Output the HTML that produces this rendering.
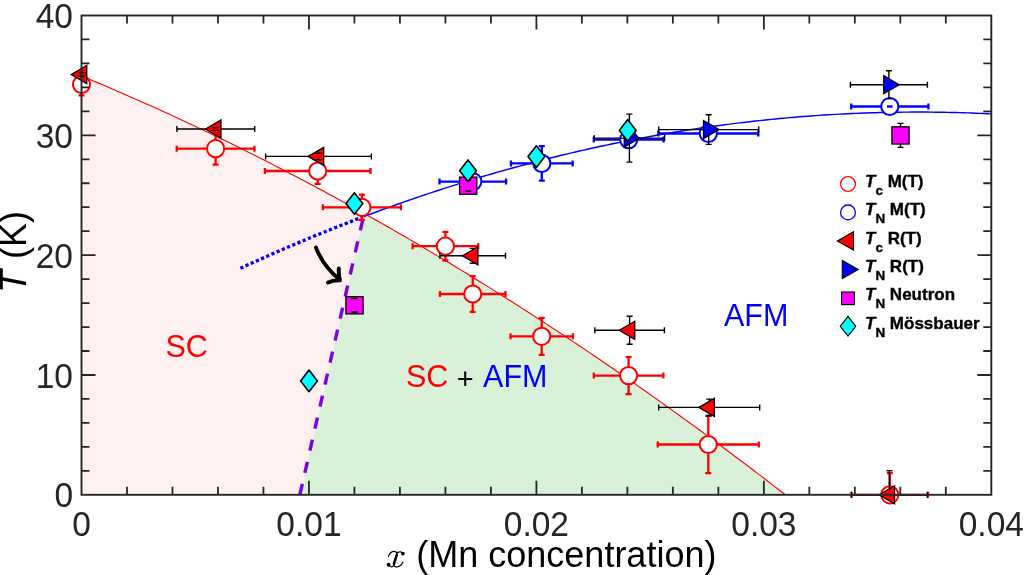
<!DOCTYPE html>
<html><head><meta charset="utf-8"><title>Phase diagram</title>
<style>
html,body{margin:0;padding:0;background:#fff;}
body{width:1025px;height:575px;overflow:hidden;}
svg{display:block;}
text{font-family:"Liberation Sans",sans-serif;}
svg{will-change:transform;}
.tk{font-size:33.5px;fill:#262626;}
.lb{font-size:36px;fill:#000;}
.an{font-size:30.5px;}
.lg{font-size:17px;font-weight:bold;fill:#000;stroke:#000;stroke-width:0.35px;}
</style></head><body>
<svg width="1025" height="575" viewBox="0 0 1025 575">
<rect width="1025" height="575" fill="#fff"/>
<polygon points="300.5,494.8 240.0,148.0 246.0,151.0 252.0,154.0 258.0,157.0 264.0,160.0 270.0,163.1 276.0,166.2 282.0,169.3 288.0,172.4 294.0,175.5 300.0,178.6 306.0,181.8 312.0,185.0 318.0,188.2 324.0,191.4 330.0,194.7 336.0,197.9 342.0,201.2 348.0,204.5 354.0,207.8 360.0,211.2 366.0,214.5 372.0,217.9 378.0,221.3 384.0,224.7 390.0,228.1 396.0,231.6 402.0,235.0 408.0,238.5 414.0,242.0 420.0,245.5 426.0,249.1 432.0,252.6 438.0,256.2 444.0,259.8 450.0,263.4 456.0,267.0 462.0,270.7 468.0,274.3 474.0,278.0 480.0,281.7 486.0,285.5 492.0,289.2 498.0,293.0 504.0,296.7 510.0,300.5 516.0,304.4 522.0,308.2 528.0,312.0 534.0,315.9 540.0,319.8 546.0,323.7 552.0,327.6 558.0,331.6 564.0,335.6 570.0,339.5 576.0,343.5 582.0,347.6 588.0,351.6 594.0,355.7 600.0,359.7 606.0,363.8 612.0,367.9 618.0,372.1 624.0,376.2 630.0,380.4 636.0,384.6 642.0,388.8 648.0,393.0 654.0,397.2 660.0,401.5 666.0,405.8 672.0,410.1 678.0,414.4 684.0,418.7 690.0,423.1 696.0,427.5 702.0,431.9 708.0,436.3 714.0,440.7 720.0,445.1 726.0,449.6 732.0,454.1 738.0,458.6 744.0,463.1 750.0,467.7 756.0,472.2 762.0,476.8 768.0,481.4 774.0,486.0 780.0,490.6 785.3,494.8" fill="#d9f0d9"/>
<polygon points="81.5,494.8 81.5,75.9 120.0,92.2 160.0,110.0 200.0,128.6 240.0,148.0 364.5,213.7 300.5,494.8" fill="#fff1f1"/>
<path d="M81.50,75.93 L85.50,77.59 L89.50,79.26 L93.50,80.93 L97.50,82.62 L101.50,84.31 L105.50,86.01 L109.50,87.72 L113.50,89.44 L117.50,91.16 L121.50,92.90 L125.50,94.64 L129.50,96.39 L133.50,98.15 L137.50,99.91 L141.50,101.69 L145.50,103.47 L149.50,105.26 L153.50,107.06 L157.50,108.87 L161.50,110.68 L165.50,112.51 L169.50,114.34 L173.50,116.18 L177.50,118.03 L181.50,119.89 L185.50,121.75 L189.50,123.63 L193.50,125.51 L197.50,127.40 L201.50,129.30 L205.50,131.20 L209.50,133.12 L213.50,135.04 L217.50,136.97 L221.50,138.91 L225.50,140.86 L229.50,142.82 L233.50,144.78 L237.50,146.75 L241.50,148.74 L245.50,150.72 L249.50,152.72 L253.50,154.73 L257.50,156.74 L261.50,158.76 L265.50,160.79 L269.50,162.83 L273.50,164.88 L277.50,166.93 L281.50,169.00 L285.50,171.07 L289.50,173.15 L293.50,175.24 L297.50,177.33 L301.50,179.44 L305.50,181.55 L309.50,183.67 L313.50,185.80 L317.50,187.94 L321.50,190.08 L325.50,192.24 L329.50,194.40 L333.50,196.57 L337.50,198.75 L341.50,200.93 L345.50,203.13 L349.50,205.33 L353.50,207.54 L357.50,209.76 L361.50,211.99 L365.50,214.23 L369.50,216.47 L373.50,218.73 L377.50,220.99 L381.50,223.26 L385.50,225.53 L389.50,227.82 L393.50,230.11 L397.50,232.41 L401.50,234.72 L405.50,237.04 L409.50,239.37 L413.50,241.71 L417.50,244.05 L421.50,246.40 L425.50,248.76 L429.50,251.13 L433.50,253.50 L437.50,255.89 L441.50,258.28 L445.50,260.68 L449.50,263.09 L453.50,265.51 L457.50,267.94 L461.50,270.37 L465.50,272.81 L469.50,275.26 L473.50,277.72 L477.50,280.19 L481.50,282.66 L485.50,285.15 L489.50,287.64 L493.50,290.14 L497.50,292.65 L501.50,295.16 L505.50,297.69 L509.50,300.22 L513.50,302.76 L517.50,305.31 L521.50,307.87 L525.50,310.43 L529.50,313.01 L533.50,315.59 L537.50,318.18 L541.50,320.78 L545.50,323.39 L549.50,326.00 L553.50,328.63 L557.50,331.26 L561.50,333.90 L565.50,336.55 L569.50,339.20 L573.50,341.87 L577.50,344.54 L581.50,347.22 L585.50,349.91 L589.50,352.61 L593.50,355.31 L597.50,358.03 L601.50,360.75 L605.50,363.48 L609.50,366.22 L613.50,368.97 L617.50,371.72 L621.50,374.49 L625.50,377.26 L629.50,380.04 L633.50,382.83 L637.50,385.62 L641.50,388.43 L645.50,391.24 L649.50,394.06 L653.50,396.89 L657.50,399.73 L661.50,402.58 L665.50,405.43 L669.50,408.29 L673.50,411.16 L677.50,414.04 L681.50,416.93 L685.50,419.83 L689.50,422.73 L693.50,425.64 L697.50,428.56 L701.50,431.49 L705.50,434.43 L709.50,437.37 L713.50,440.32 L717.50,443.29 L721.50,446.26 L725.50,449.23 L729.50,452.22 L733.50,455.21 L737.50,458.22 L741.50,461.23 L745.50,464.25 L749.50,467.27 L753.50,470.31 L757.50,473.35 L761.50,476.40 L765.50,479.46 L769.50,482.53 L773.50,485.61 L777.50,488.70 L781.50,491.79 L785.30,494.73" fill="none" stroke="#ff0000" stroke-width="1.1"/>
<path d="M363.50,216.70 L367.50,215.19 L371.50,213.70 L375.50,212.22 L379.50,210.75 L383.50,209.28 L387.50,207.83 L391.50,206.39 L395.50,204.97 L399.50,203.55 L403.50,202.14 L407.50,200.75 L411.50,199.36 L415.50,197.99 L419.50,196.63 L423.50,195.27 L427.50,193.93 L431.50,192.60 L435.50,191.28 L439.50,189.97 L443.50,188.68 L447.50,187.39 L451.50,186.11 L455.50,184.85 L459.50,183.60 L463.50,182.35 L467.50,181.12 L471.50,179.90 L475.50,178.69 L479.50,177.49 L483.50,176.30 L487.50,175.12 L491.50,173.96 L495.50,172.80 L499.50,171.65 L503.50,170.52 L507.50,169.40 L511.50,168.28 L515.50,167.18 L519.50,166.09 L523.50,165.01 L527.50,163.94 L531.50,162.89 L535.50,161.84 L539.50,160.80 L543.50,159.78 L547.50,158.76 L551.50,157.76 L555.50,156.77 L559.50,155.79 L563.50,154.82 L567.50,153.86 L571.50,152.91 L575.50,151.97 L579.50,151.04 L583.50,150.13 L587.50,149.22 L591.50,148.33 L595.50,147.44 L599.50,146.57 L603.50,145.71 L607.50,144.86 L611.50,144.02 L615.50,143.19 L619.50,142.37 L623.50,141.56 L627.50,140.77 L631.50,139.98 L635.50,139.21 L639.50,138.44 L643.50,137.69 L647.50,136.95 L651.50,136.22 L655.50,135.50 L659.50,134.79 L663.50,134.09 L667.50,133.40 L671.50,132.73 L675.50,132.06 L679.50,131.41 L683.50,130.76 L687.50,130.13 L691.50,129.51 L695.50,128.90 L699.50,128.30 L703.50,127.71 L707.50,127.13 L711.50,126.56 L715.50,126.00 L719.50,125.46 L723.50,124.92 L727.50,124.40 L731.50,123.89 L735.50,123.38 L739.50,122.89 L743.50,122.41 L747.50,121.94 L751.50,121.48 L755.50,121.04 L759.50,120.60 L763.50,120.17 L767.50,119.76 L771.50,119.35 L775.50,118.96 L779.50,118.58 L783.50,118.21 L787.50,117.85 L791.50,117.50 L795.50,117.16 L799.50,116.83 L803.50,116.51 L807.50,116.21 L811.50,115.91 L815.50,115.63 L819.50,115.36 L823.50,115.09 L827.50,114.84 L831.50,114.60 L835.50,114.37 L839.50,114.15 L843.50,113.94 L847.50,113.75 L851.50,113.56 L855.50,113.39 L859.50,113.22 L863.50,113.07 L867.50,112.93 L871.50,112.79 L875.50,112.67 L879.50,112.56 L883.50,112.46 L887.50,112.38 L891.50,112.30 L895.50,112.23 L899.50,112.18 L903.50,112.13 L907.50,112.10 L911.50,112.08 L915.50,112.06 L919.50,112.06 L923.50,112.07 L927.50,112.09 L931.50,112.13 L935.50,112.17 L939.50,112.22 L943.50,112.29 L947.50,112.36 L951.50,112.45 L955.50,112.54 L959.50,112.65 L963.50,112.77 L967.50,112.90 L971.50,113.04 L975.50,113.19 L979.50,113.36 L983.50,113.53 L987.50,113.71 L991.30,113.90" fill="none" stroke="#0000ff" stroke-width="1.45"/>
<path d="M240.40,268.33 L246.40,265.57 L252.40,262.84 L258.40,260.14 L264.40,257.45 L270.40,254.80 L276.40,252.16 L282.40,249.55 L288.40,246.97 L294.40,244.41 L300.40,241.88 L306.40,239.36 L312.40,236.88 L318.40,234.42 L324.40,231.98 L330.40,229.57 L336.40,227.18 L342.40,224.82 L348.40,222.48 L354.40,220.16 L360.40,217.87 L362.00,217.27" fill="none" stroke="#0000ff" stroke-width="3.3" stroke-dasharray="3.25 2.42"/>
<path d="M299.8,494.8 L363.5,216.5" fill="none" stroke="#7f00e6" stroke-width="3.4" stroke-dasharray="11.3 11.3"/>
<path d="M316,247.6 Q323,266 339.5,279.5 M338.8,268.5 Q338.5,275 340,280.3 Q333,280 328,282.6" fill="none" stroke="#000" stroke-width="3.9" stroke-linecap="round" stroke-linejoin="round"/>
<path d="M81.50,73.60 V95.40" fill="none" stroke="#ff0000" stroke-width="2.3"/>
<circle cx="81.50" cy="84.50" r="8.6" fill="#fff" stroke="#ff0000" stroke-width="2.0"/>
<path d="M78.50,73.60 H84.50 M78.50,95.40 H84.50" fill="none" stroke="#ff0000" stroke-width="2.3"/>
<path d="M176.70,148.70 H254.50 M215.60,132.70 V164.70" fill="none" stroke="#ff0000" stroke-width="2.3"/>
<circle cx="215.60" cy="148.70" r="8.6" fill="#fff" stroke="#ff0000" stroke-width="2.0"/>
<path d="M176.70,145.70 V151.70 M254.50,145.70 V151.70 M212.60,132.70 H218.60 M212.60,164.70 H218.60" fill="none" stroke="#ff0000" stroke-width="2.3"/>
<path d="M264.90,171.00 H370.50 M317.70,158.20 V183.80" fill="none" stroke="#ff0000" stroke-width="2.3"/>
<circle cx="317.70" cy="171.00" r="8.6" fill="#fff" stroke="#ff0000" stroke-width="2.0"/>
<path d="M264.90,168.00 V174.00 M370.50,168.00 V174.00 M314.70,158.20 H320.70 M314.70,183.80 H320.70" fill="none" stroke="#ff0000" stroke-width="2.3"/>
<path d="M322.90,207.30 H400.90 M361.90,194.70 V219.90" fill="none" stroke="#ff0000" stroke-width="2.3"/>
<circle cx="361.90" cy="207.30" r="8.6" fill="#fff" stroke="#ff0000" stroke-width="2.0"/>
<path d="M322.90,204.30 V210.30 M400.90,204.30 V210.30 M358.90,194.70 H364.90 M358.90,219.90 H364.90" fill="none" stroke="#ff0000" stroke-width="2.3"/>
<path d="M412.60,246.20 H478.20 M445.40,231.90 V260.50" fill="none" stroke="#ff0000" stroke-width="2.3"/>
<circle cx="445.40" cy="246.20" r="8.6" fill="#fff" stroke="#ff0000" stroke-width="2.0"/>
<path d="M412.60,243.20 V249.20 M478.20,243.20 V249.20 M442.40,231.90 H448.40 M442.40,260.50 H448.40" fill="none" stroke="#ff0000" stroke-width="2.3"/>
<path d="M439.90,294.00 H505.50 M472.70,276.20 V311.80" fill="none" stroke="#ff0000" stroke-width="2.3"/>
<circle cx="472.70" cy="294.00" r="8.6" fill="#fff" stroke="#ff0000" stroke-width="2.0"/>
<path d="M439.90,291.00 V297.00 M505.50,291.00 V297.00 M469.70,276.20 H475.70 M469.70,311.80 H475.70" fill="none" stroke="#ff0000" stroke-width="2.3"/>
<path d="M510.50,336.30 H572.90 M541.70,317.80 V354.80" fill="none" stroke="#ff0000" stroke-width="2.3"/>
<circle cx="541.70" cy="336.30" r="8.6" fill="#fff" stroke="#ff0000" stroke-width="2.0"/>
<path d="M510.50,333.30 V339.30 M572.90,333.30 V339.30 M538.70,317.80 H544.70 M538.70,354.80 H544.70" fill="none" stroke="#ff0000" stroke-width="2.3"/>
<path d="M593.80,375.60 H663.40 M628.60,357.10 V394.10" fill="none" stroke="#ff0000" stroke-width="2.3"/>
<circle cx="628.60" cy="375.60" r="8.6" fill="#fff" stroke="#ff0000" stroke-width="2.0"/>
<path d="M593.80,372.60 V378.60 M663.40,372.60 V378.60 M625.60,357.10 H631.60 M625.60,394.10 H631.60" fill="none" stroke="#ff0000" stroke-width="2.3"/>
<path d="M657.80,444.50 H758.80 M708.30,415.80 V473.20" fill="none" stroke="#ff0000" stroke-width="2.3"/>
<circle cx="708.30" cy="444.50" r="8.6" fill="#fff" stroke="#ff0000" stroke-width="2.0"/>
<path d="M657.80,441.50 V447.50 M758.80,441.50 V447.50 M705.30,415.80 H711.30 M705.30,473.20 H711.30" fill="none" stroke="#ff0000" stroke-width="2.3"/>
<path d="M851.60,494.80 H928.00 M889.80,473.00 V494.80" fill="none" stroke="#ff0000" stroke-width="2.3"/>
<circle cx="889.80" cy="494.80" r="8.6" fill="#fff" stroke="#ff0000" stroke-width="2.0"/>
<path d="M851.60,491.80 V497.80 M928.00,491.80 V497.80 M886.80,473.00 H892.80" fill="none" stroke="#ff0000" stroke-width="2.3"/>
<path d="M439.50,181.60 H506.10 M472.80,173.60 V189.60" fill="none" stroke="#0000ff" stroke-width="2.3"/>
<circle cx="472.80" cy="181.60" r="8.6" fill="#fff" stroke="#0000ff" stroke-width="2.0"/>
<path d="M439.50,178.60 V184.60 M506.10,178.60 V184.60 M469.80,173.60 H475.80 M469.80,189.60 H475.80" fill="none" stroke="#0000ff" stroke-width="2.3"/>
<path d="M510.90,163.40 H572.70 M541.80,146.10 V180.70" fill="none" stroke="#0000ff" stroke-width="2.3"/>
<circle cx="541.80" cy="163.40" r="8.6" fill="#fff" stroke="#0000ff" stroke-width="2.0"/>
<path d="M510.90,160.40 V166.40 M572.70,160.40 V166.40 M538.80,146.10 H544.80 M538.80,180.70 H544.80" fill="none" stroke="#0000ff" stroke-width="2.3"/>
<path d="M593.80,139.60 H663.60" fill="none" stroke="#0000ff" stroke-width="2.3"/>
<circle cx="628.70" cy="139.60" r="8.6" fill="#fff" stroke="#0000ff" stroke-width="2.0"/>
<path d="M593.80,136.60 V142.60 M663.60,136.60 V142.60" fill="none" stroke="#0000ff" stroke-width="2.3"/>
<path d="M658.30,133.50 H758.30" fill="none" stroke="#0000ff" stroke-width="2.3"/>
<circle cx="708.30" cy="133.50" r="8.6" fill="#fff" stroke="#0000ff" stroke-width="2.0"/>
<path d="M658.30,130.50 V136.50 M758.30,130.50 V136.50" fill="none" stroke="#0000ff" stroke-width="2.3"/>
<path d="M851.20,106.50 H928.40" fill="none" stroke="#0000ff" stroke-width="2.3"/>
<circle cx="889.80" cy="106.50" r="8.6" fill="#fff" stroke="#0000ff" stroke-width="2.0"/>
<path d="M851.20,103.50 V109.50 M928.40,103.50 V109.50" fill="none" stroke="#0000ff" stroke-width="2.3"/>
<path d="M887,106.5 H892.6" stroke="#0000ff" stroke-width="2.4"/>
<path d="M81.60,72.70 V76.30" fill="none" stroke="#000" stroke-width="1.4"/>
<polygon points="71.27,74.50 86.77,65.50 86.77,83.50" fill="#ff0000" stroke="#000" stroke-width="1.3" stroke-linejoin="miter"/>
<path d="M78.60,72.70 H84.60 M78.60,76.30 H84.60" fill="none" stroke="#000" stroke-width="1.4"/>
<path d="M176.90,129.00 H254.70 M215.80,127.60 V130.40" fill="none" stroke="#000" stroke-width="1.4"/>
<polygon points="205.47,129.00 220.97,120.00 220.97,138.00" fill="#ff0000" stroke="#000" stroke-width="1.3" stroke-linejoin="miter"/>
<path d="M176.90,126.00 V132.00 M254.70,126.00 V132.00 M212.80,127.60 H218.80 M212.80,130.40 H218.80" fill="none" stroke="#000" stroke-width="1.4"/>
<path d="M265.60,156.40 H371.40 M318.50,153.20 V159.60" fill="none" stroke="#000" stroke-width="1.4"/>
<polygon points="308.17,156.40 323.67,147.40 323.67,165.40" fill="#ff0000" stroke="#000" stroke-width="1.3" stroke-linejoin="miter"/>
<path d="M265.60,153.40 V159.40 M371.40,153.40 V159.40 M315.50,153.20 H321.50 M315.50,159.60 H321.50" fill="none" stroke="#000" stroke-width="1.4"/>
<path d="M439.90,255.80 H505.50 M472.70,248.40 V263.20 M439.90,252.80 V258.80 M505.50,252.80 V258.80 M469.70,248.40 H475.70 M469.70,263.20 H475.70" fill="none" stroke="#000" stroke-width="1.4"/>
<polygon points="462.37,255.80 477.87,246.80 477.87,264.80" fill="#ff0000" stroke="#000" stroke-width="1.3" stroke-linejoin="miter"/>
<path d="M594.80,330.30 H664.40 M629.60,316.30 V344.30" fill="none" stroke="#000" stroke-width="1.4"/>
<polygon points="619.27,330.30 634.77,321.30 634.77,339.30" fill="#ff0000" stroke="#000" stroke-width="1.3" stroke-linejoin="miter"/>
<path d="M594.80,327.30 V333.30 M664.40,327.30 V333.30 M626.60,316.30 H632.60 M626.60,344.30 H632.60" fill="none" stroke="#000" stroke-width="1.4"/>
<path d="M658.70,407.40 H759.70 M709.20,399.10 V415.70 M658.70,404.40 V410.40 M759.70,404.40 V410.40 M706.20,399.10 H712.20 M706.20,415.70 H712.20" fill="none" stroke="#000" stroke-width="1.4"/>
<polygon points="698.87,407.40 714.37,398.40 714.37,416.40" fill="#ff0000" stroke="#000" stroke-width="1.3" stroke-linejoin="miter"/>
<path d="M851.40,494.80 H927.40 M889.40,470.60 V494.80" fill="none" stroke="#000" stroke-width="1.4"/>
<polygon points="879.07,494.80 894.57,485.80 894.57,503.80" fill="#ff0000" stroke="#000" stroke-width="1.3" stroke-linejoin="miter"/>
<path d="M851.40,491.80 V497.80 M927.40,491.80 V497.80 M886.40,470.60 H892.40" fill="none" stroke="#000" stroke-width="1.4"/>
<path d="M594.20,138.10 H664.60 M629.40,114.10 V162.10" fill="none" stroke="#000" stroke-width="1.4"/>
<polygon points="639.73,138.10 624.23,129.10 624.23,147.10" fill="#0000ff" stroke="#000" stroke-width="1.3" stroke-linejoin="miter"/>
<path d="M594.20,135.10 V141.10 M664.60,135.10 V141.10 M626.40,114.10 H632.40 M626.40,162.10 H632.40" fill="none" stroke="#000" stroke-width="1.4"/>
<path d="M658.70,129.60 H758.70 M708.70,114.80 V144.40" fill="none" stroke="#000" stroke-width="1.4"/>
<polygon points="719.03,129.60 703.53,120.60 703.53,138.60" fill="#0000ff" stroke="#000" stroke-width="1.3" stroke-linejoin="miter"/>
<path d="M658.70,126.60 V132.60 M758.70,126.60 V132.60 M705.70,114.80 H711.70 M705.70,144.40 H711.70" fill="none" stroke="#000" stroke-width="1.4"/>
<path d="M850.40,84.70 H927.40 M888.90,70.80 V98.60" fill="none" stroke="#000" stroke-width="1.4"/>
<polygon points="899.23,84.70 883.73,75.70 883.73,93.70" fill="#0000ff" stroke="#000" stroke-width="1.3" stroke-linejoin="miter"/>
<path d="M850.40,81.70 V87.70 M927.40,81.70 V87.70 M885.90,70.80 H891.90 M885.90,98.60 H891.90" fill="none" stroke="#000" stroke-width="1.4"/>
<path d="M354.50,298.55 V312.05" fill="none" stroke="#000" stroke-width="1.4"/>
<rect x="345.90" y="296.70" width="17.2" height="17.2" fill="#ff00ff" stroke="#000" stroke-width="1.3"/>
<path d="M351.50,298.55 H357.50 M351.50,312.05 H357.50" fill="none" stroke="#000" stroke-width="1.4"/>
<path d="M468.20,180.20 V191.20" fill="none" stroke="#000" stroke-width="1.4"/>
<rect x="459.60" y="177.10" width="17.2" height="17.2" fill="#ff00ff" stroke="#000" stroke-width="1.3"/>
<path d="M465.20,180.20 H471.20 M465.20,191.20 H471.20" fill="none" stroke="#000" stroke-width="1.4"/>
<path d="M900.50,123.40 V147.40" fill="none" stroke="#000" stroke-width="1.4"/>
<rect x="891.90" y="126.80" width="17.2" height="17.2" fill="#ff00ff" stroke="#000" stroke-width="1.3"/>
<path d="M897.50,123.40 H903.50 M897.50,147.40 H903.50" fill="none" stroke="#000" stroke-width="1.4"/>
<polygon points="309.00,370.10 317.40,380.90 309.00,391.70 300.60,380.90" fill="#00ffff" stroke="#000" stroke-width="1.6" stroke-linejoin="round"/>
<polygon points="354.40,192.70 362.80,203.50 354.40,214.30 346.00,203.50" fill="#00ffff" stroke="#000" stroke-width="1.6" stroke-linejoin="round"/>
<polygon points="468.00,159.90 476.40,170.70 468.00,181.50 459.60,170.70" fill="#00ffff" stroke="#000" stroke-width="1.6" stroke-linejoin="round"/>
<polygon points="536.40,145.80 544.80,156.60 536.40,167.40 528.00,156.60" fill="#00ffff" stroke="#000" stroke-width="1.6" stroke-linejoin="round"/>
<polygon points="627.70,119.60 636.10,130.40 627.70,141.20 619.30,130.40" fill="#00ffff" stroke="#000" stroke-width="1.6" stroke-linejoin="round"/>
<path d="M126.99,494.80 V486.80 M126.99,15.50 V23.50 M172.48,494.80 V486.80 M172.48,15.50 V23.50 M217.97,494.80 V486.80 M217.97,15.50 V23.50 M263.46,494.80 V486.80 M263.46,15.50 V23.50 M308.95,494.80 V480.80 M308.95,15.50 V29.50 M354.44,494.80 V486.80 M354.44,15.50 V23.50 M399.93,494.80 V486.80 M399.93,15.50 V23.50 M445.42,494.80 V486.80 M445.42,15.50 V23.50 M490.91,494.80 V486.80 M490.91,15.50 V23.50 M536.40,494.80 V480.80 M536.40,15.50 V29.50 M581.89,494.80 V486.80 M581.89,15.50 V23.50 M627.38,494.80 V486.80 M627.38,15.50 V23.50 M672.87,494.80 V486.80 M672.87,15.50 V23.50 M718.36,494.80 V486.80 M718.36,15.50 V23.50 M763.85,494.80 V480.80 M763.85,15.50 V29.50 M809.34,494.80 V486.80 M809.34,15.50 V23.50 M854.83,494.80 V486.80 M854.83,15.50 V23.50 M900.32,494.80 V486.80 M900.32,15.50 V23.50 M945.81,494.80 V486.80 M945.81,15.50 V23.50 M81.50,470.84 H89.50 M991.30,470.84 H983.30 M81.50,446.87 H89.50 M991.30,446.87 H983.30 M81.50,422.91 H89.50 M991.30,422.91 H983.30 M81.50,398.94 H89.50 M991.30,398.94 H983.30 M81.50,374.98 H95.50 M991.30,374.98 H977.30 M81.50,351.01 H89.50 M991.30,351.01 H983.30 M81.50,327.05 H89.50 M991.30,327.05 H983.30 M81.50,303.08 H89.50 M991.30,303.08 H983.30 M81.50,279.12 H89.50 M991.30,279.12 H983.30 M81.50,255.15 H95.50 M991.30,255.15 H977.30 M81.50,231.19 H89.50 M991.30,231.19 H983.30 M81.50,207.22 H89.50 M991.30,207.22 H983.30 M81.50,183.25 H89.50 M991.30,183.25 H983.30 M81.50,159.29 H89.50 M991.30,159.29 H983.30 M81.50,135.32 H95.50 M991.30,135.32 H977.30 M81.50,111.36 H89.50 M991.30,111.36 H983.30 M81.50,87.40 H89.50 M991.30,87.40 H983.30 M81.50,63.43 H89.50 M991.30,63.43 H983.30 M81.50,39.47 H89.50 M991.30,39.47 H983.30" stroke="#262626" stroke-width="1.8" fill="none"/>
<rect x="81.50" y="15.50" width="909.80" height="479.30" fill="none" stroke="#262626" stroke-width="1.9"/>
<text transform="translate(81.50,535.9) scale(1,1.04)" text-anchor="middle" class="tk">0</text>
<text transform="translate(308.95,535.9) scale(1,1.04)" text-anchor="middle" class="tk">0.01</text>
<text transform="translate(536.40,535.9) scale(1,1.04)" text-anchor="middle" class="tk">0.02</text>
<text transform="translate(763.85,535.9) scale(1,1.04)" text-anchor="middle" class="tk">0.03</text>
<text transform="translate(991.30,535.9) scale(1,1.04)" text-anchor="middle" class="tk">0.04</text>
<text transform="translate(73.0,507.40) scale(1,1.04)" text-anchor="end" class="tk">0</text>
<text transform="translate(73.0,387.58) scale(1,1.04)" text-anchor="end" class="tk">10</text>
<text transform="translate(73.0,267.75) scale(1,1.04)" text-anchor="end" class="tk">20</text>
<text transform="translate(73.0,147.92) scale(1,1.04)" text-anchor="end" class="tk">30</text>
<text transform="translate(73.0,28.10) scale(1,1.04)" text-anchor="end" class="tk">40</text>
<g fill="none" stroke="#000" stroke-linecap="round"><path d="M388.4,556.4 C389.6,553.2 391.8,551.4 394.2,551.4 C396.4,551.4 397.2,553 396.6,555.4" stroke-width="1.25"/><path d="M396.6,555.4 L394.0,563.6" stroke-width="2.6"/><path d="M394.0,563.6 C393.4,565.8 394.4,566.9 396.4,566.9 C399.2,566.9 401.6,564.8 402.9,562.2" stroke-width="1.25"/><path d="M403,553.6 C401.8,551.9 399.4,551.2 397.6,552.6 C397,553.1 396.7,553.9 396.6,555.4" stroke-width="1.25"/><path d="M388.4,564.8 C389.4,566.5 391,566.9 392.4,566.7 C393.3,566.5 393.8,565.2 394.0,563.6" stroke-width="1.25"/></g><circle cx="402.9" cy="553.6" r="1.9" fill="#000"/><circle cx="388.6" cy="564.7" r="1.9" fill="#000"/>
<text x="416.3" y="567" class="lb">(Mn concentration)</text>
<text transform="translate(26,252) rotate(-90)" text-anchor="middle" class="lb"><tspan font-style="italic" font-size="37.5">T</tspan><tspan dx="1"> (K)</tspan></text>
<text x="165.5" y="356.5" class="an" fill="#ff0000">SC</text>
<text x="406" y="386.5" class="an"><tspan fill="#ff0000">SC</tspan> <tspan dy="2.8" font-size="29">+</tspan> <tspan dx="2.5" dy="-2.8" fill="#0000ff">AFM</tspan></text>
<text x="724" y="326" class="an" fill="#0000ff">AFM</text>
<circle cx="848.00" cy="184.00" r="7.4" fill="#fff" stroke="#ff0000" stroke-width="1.3"/>
<circle cx="848.00" cy="212.40" r="7.4" fill="#fff" stroke="#0000ff" stroke-width="1.3"/>
<polygon points="837.3,240.9 853.5,231.8 853.5,250" fill="#ff0000" stroke="#000" stroke-width="1.1"/>
<polygon points="858.2,269.4 842.3,260.5 842.3,278.6" fill="#0000ff" stroke="#000" stroke-width="1.1"/>
<rect x="841.6" y="292" width="12.8" height="12.6" fill="#ff00ff" stroke="#000" stroke-width="1.1"/>
<polygon points="848,316.4 855.8,326.3 848,336.2 840.2,326.3" fill="#00ffff" stroke="#000" stroke-width="1.1"/>
<text x="865" y="186.80" class="lg"><tspan font-style="italic">T</tspan><tspan font-size="13.5" dy="8">c</tspan><tspan dy="-8"> M(T)</tspan></text>
<text x="865" y="215.20" class="lg"><tspan font-style="italic">T</tspan><tspan font-size="13.5" dy="8">N</tspan><tspan dy="-8"> M(T)</tspan></text>
<text x="865" y="243.60" class="lg"><tspan font-style="italic">T</tspan><tspan font-size="13.5" dy="8">c</tspan><tspan dy="-8"> R(T)</tspan></text>
<text x="865" y="272.00" class="lg"><tspan font-style="italic">T</tspan><tspan font-size="13.5" dy="8">N</tspan><tspan dy="-8"> R(T)</tspan></text>
<text x="865" y="300.40" class="lg"><tspan font-style="italic">T</tspan><tspan font-size="13.5" dy="8">N</tspan><tspan dy="-8"> Neutron</tspan></text>
<text x="865" y="328.80" class="lg"><tspan font-style="italic">T</tspan><tspan font-size="13.5" dy="8">N</tspan><tspan dy="-8"> Mössbauer</tspan></text>
</svg>
</body></html>
